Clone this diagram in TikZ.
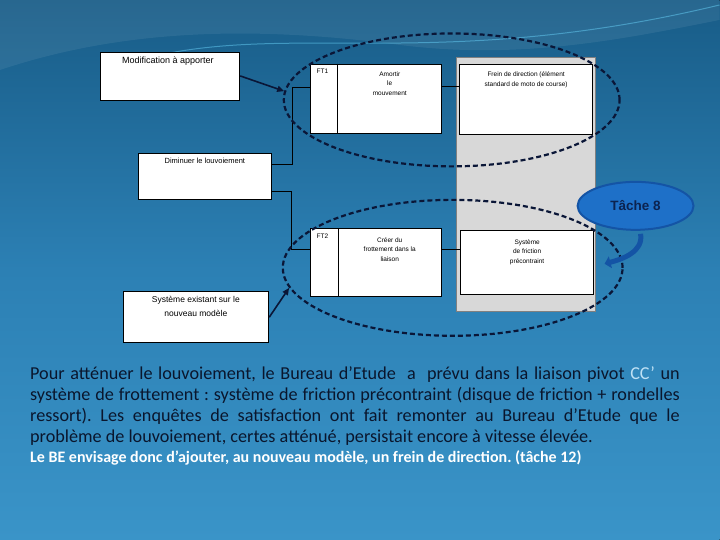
\documentclass[tikz,border=0pt]{standalone}
\usepackage{fontspec}
\setmainfont{Carlito}
\newfontfamily\boxfont{Liberation Sans}
\usetikzlibrary{positioning, shapes.geometric, arrows.meta}
\frenchspacing

\definecolor{bgtop}{RGB}{24,92,135}
\definecolor{bgmid}{RGB}{44,128,180}
\definecolor{bgbot}{RGB}{58,148,200}
\definecolor{dashnavy}{RGB}{10,22,55}
\definecolor{panelgrey}{RGB}{216,216,216}
\definecolor{tachefill}{RGB}{30,112,200}
\definecolor{tacheedge}{RGB}{20,84,165}
\definecolor{tachetext}{RGB}{12,35,80}
\definecolor{paratext}{RGB}{10,22,45}
\definecolor{primeblue}{RGB}{190,225,245}

\begin{document}
\begin{tikzpicture}[x=1pt, y=-1pt,
    box/.style = {draw, fill=white, line width=0.8pt, inner sep=0pt},
    lbl/.style = {inner sep=0pt, align=center, font=\boxfont\fontsize{6.5}{9.5}\selectfont},
    dashell/.style = {draw=dashnavy, ellipse, dash pattern=on 5pt off 3pt, line width=2.2pt, inner sep=0pt},
    link/.style = {line width=0.8pt},
    pointer/.style = {line width=1.6pt, dashnavy, -{Triangle[length=7pt,width=6pt]}},
    para/.style = {anchor=base west, inner sep=0pt, text=paratext, font=\fontsize{18.2}{21}\selectfont}]

    % Background
    \fill[top color=bgtop, bottom color=bgbot, middle color=bgmid] (0,0) rectangle (720,540);
    \fill[white, opacity=0.07] (0,70) .. controls (120,30) and (250,25) .. (400,45) .. controls (520,60) and (620,40) .. (720,20) -- (720,0) -- (0,0) -- cycle;
    \draw[cyan!60!white, opacity=0.5, line width=1pt] (160,55) .. controls (300,25) and (450,70) .. (720,5);

    % Nodes
    \node[draw=gray, fill=panelgrey, line width=0.8pt, minimum width=139pt, minimum height=255pt, inner sep=0pt] (panel) at (526.5,184.5) {};
    \node[box, minimum width=140pt, minimum height=48pt] (modif) at (170,76) {};
    \node[box, minimum width=134pt, minimum height=46pt] (dim) at (205,177) {};
    \node[box, minimum width=146pt, minimum height=51pt] (sysex) at (196,317.5) {};
    \node[box, minimum width=131pt, minimum height=69pt] (ft1) at (376.5,98.5) {};
    \node[box, minimum width=131pt, minimum height=68pt] (ft2) at (376.5,263) {};
    \node[box, minimum width=133pt, minimum height=70pt] (frein) at (526.5,99) {};
    \node[box, minimum width=133pt, minimum height=64pt] (sys) at (527.5,263) {};

    % Lines
    \draw[link] ([xshift=27pt]ft1.north west) -- ([xshift=27pt]ft1.south west);
    \draw[link] ([xshift=28pt]ft2.north west) -- ([xshift=28pt]ft2.south west);
    \draw[link] ([yshift=12pt]dim.east) -- ++(20,0) |- ([yshift=11.5pt]ft1.west);
    \draw[link] ([yshift=-15pt]dim.east) -- ++(19,0) |- ([yshift=13pt]ft2.west);
    \draw[link] ([yshift=12.5pt]ft1.east) -- ([yshift=12.5pt]ft1.east -| frein.west);
    \draw[link] ([yshift=13pt]ft2.east) -- ([yshift=13pt]ft2.east -| sys.west);

    % Groups
    \node[dashell, minimum width=336pt, minimum height=133pt] (ell1) at (452,100) {};
    \node[dashell, minimum width=340pt, minimum height=136pt] (ell2) at (453,268) {};
    \draw[pointer] (modif.east) -- (ell1.177);
    \draw[pointer] (sysex.east) -- (ell2.187);

    % Callout
    \coordinate (t8tip) at (605,264);
    \draw[tacheedge, line width=5pt, -{Triangle[length=6pt,width=12pt]}] (641,234) to[out=-80,in=15] (t8tip);
    \node[ellipse, draw=tacheedge, fill=tachefill, line width=2pt, minimum width=116pt, minimum height=48pt, inner sep=0pt,
          text=tachetext, font=\boxfont\bfseries\fontsize{13.5}{15}\selectfont] (t8) at (636,206) {Tâche 8};

    % Labels
    \node[lbl, anchor=north, font=\boxfont\fontsize{9}{11}\selectfont] at ([xshift=-2pt,yshift=-5pt]modif.north) {Modification à apporter};
    \node[lbl, anchor=north, font=\boxfont\fontsize{7.5}{9}\selectfont] at ([yshift=-4pt]dim.north) {Diminuer le louvoiement};
    \node[lbl, anchor=north, font=\boxfont\fontsize{8.5}{14}\selectfont] at ([yshift=-5pt]sysex.north) {Système existant sur le\\nouveau modèle};
    \node[lbl, anchor=north] at ([xshift=12pt,yshift=-5pt]ft1.north west) {FT1};
    \node[lbl, anchor=north] at ([xshift=13.5pt,yshift=-8pt]ft1.north) {Amortir\\le\\mouvement};
    \node[lbl, anchor=north] at ([yshift=-8pt]frein.north) {Frein de direction (élément\\standard de moto de course)};
    \node[lbl, anchor=north] at ([xshift=12pt,yshift=-5pt]ft2.north west) {FT2};
    \node[lbl, anchor=north] at ([xshift=13.5pt,yshift=-9pt]ft2.north) {Créer du\\frottement dans la\\liaison};
    \node[lbl, anchor=north] at ([yshift=-9pt]sys.north) {Système\\de friction\\précontraint};

    % Text
    \node[para] (p1) at (30,380) {\makebox[650pt][s]{Pour atténuer le louvoiement, le Bureau d’Etude \ a \ prévu dans la liaison pivot \textcolor{primeblue}{CC’}\ un}};
    \node[para] (p2) at (30,401) {\makebox[650pt][s]{système de frottement : système de friction précontraint (disque de friction + rondelles}};
    \node[para] (p3) at (30,422) {\makebox[650pt][s]{ressort). Les enquêtes de satisfaction ont fait remonter au Bureau d’Etude que le}};
    \node[para] (p4) at (30,443) {problème de louvoiement, certes atténué, persistait encore à vitesse élevée.};
    \node[para, text=white, font=\bfseries\fontsize{16}{17}\selectfont] (p5) at (30,463) {Le BE envisage donc d’ajouter, au nouveau modèle, un frein de direction. (tâche 12)};
\end{tikzpicture}
\end{document}
